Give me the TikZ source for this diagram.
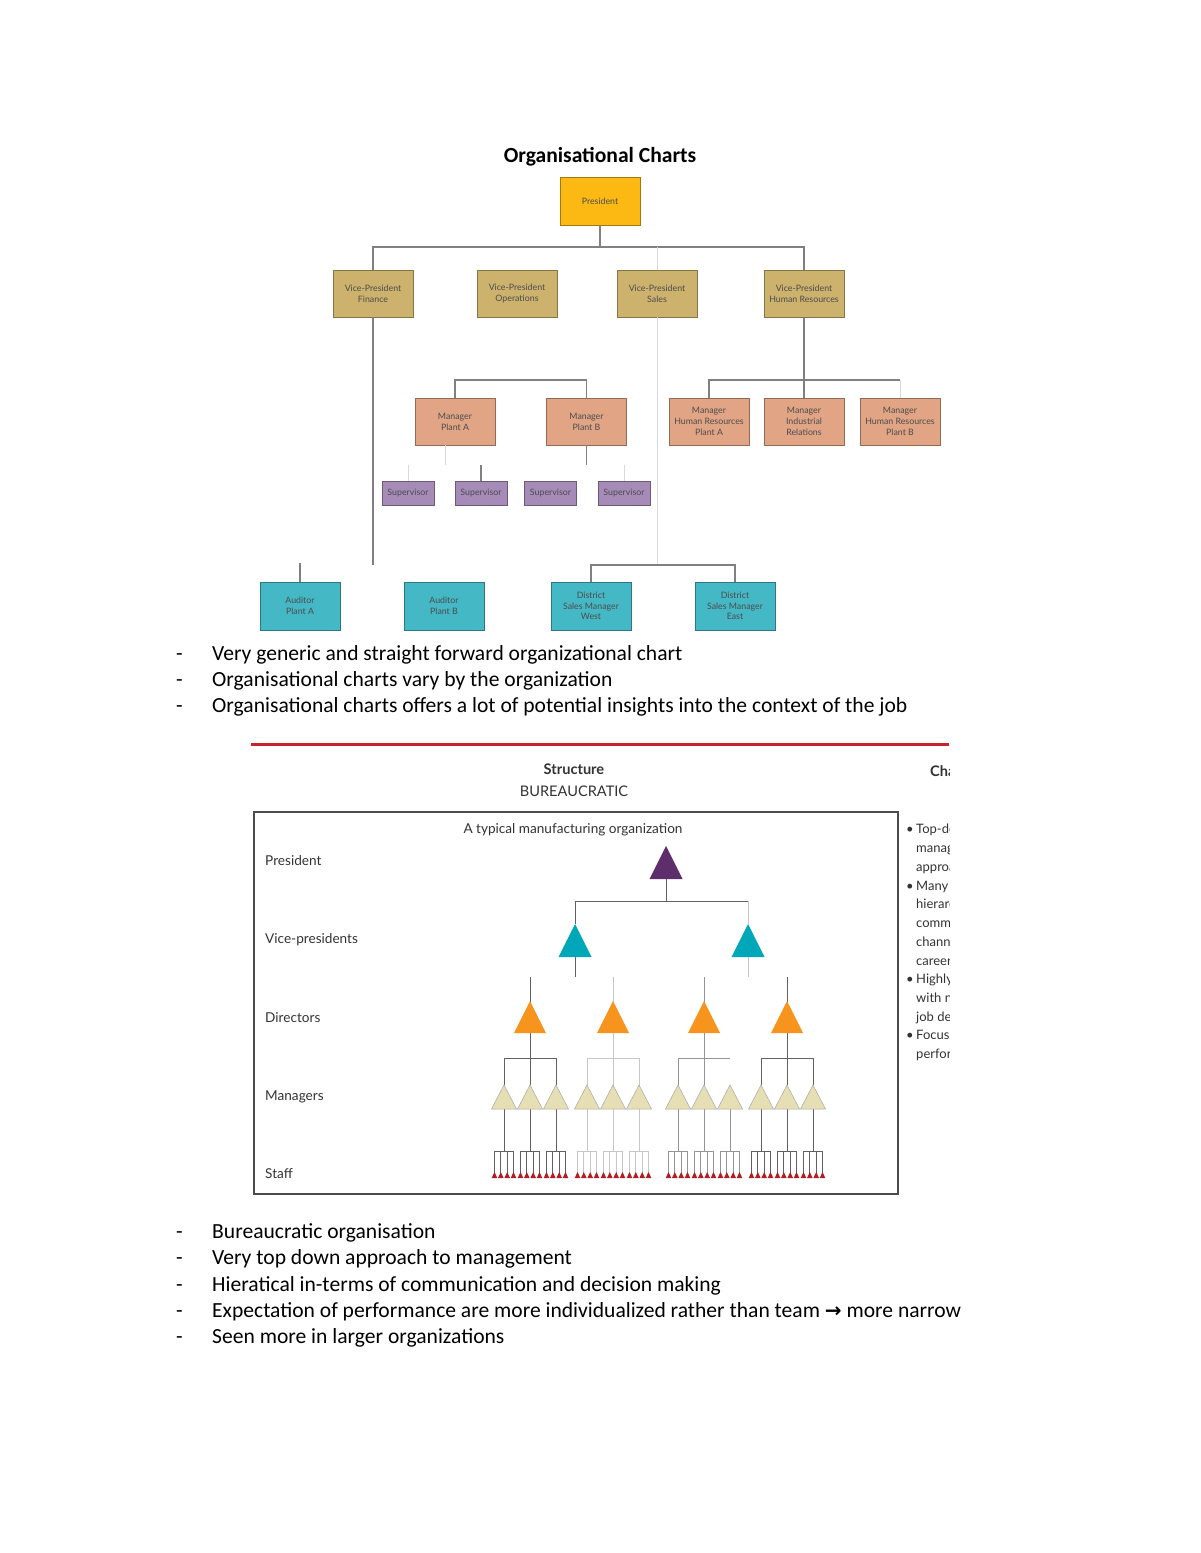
\documentclass[tikz,border=0pt]{standalone}
\usepackage{fontspec}
\setmainfont{Carlito}
\newfontfamily\gill{Lato}
\newfontfamily\dejavu{DejaVu Sans}
\definecolor{presgold}{HTML}{FDB913}
\definecolor{vptan}{HTML}{CDB26E}
\definecolor{mgrsal}{HTML}{E1A586}
\definecolor{suppur}{HTML}{A68BB8}
\definecolor{audteal}{HTML}{45B8C5}
\definecolor{redline}{HTML}{C8202E}
\definecolor{tripur}{HTML}{5E2D6B}
\definecolor{triteal}{HTML}{00A7B8}
\definecolor{triorange}{HTML}{F7941D}
\definecolor{tribeige}{HTML}{E6DFB3}
\definecolor{trired}{HTML}{B01E23}
\newcommand{\orgtri}[6]{\coordinate (#1) at (#2,#3); \path[#6] (#1) -- ++(#4,#5) -- ++({-2*#4},0) -- cycle;}
\begin{document}
\begin{tikzpicture}[x=1pt,y=-1pt,
  orgbox/.style={draw=#1!65!black, fill=#1, line width=0.9pt, minimum width=80pt, minimum height=47pt, inner sep=1pt, align=center, font=\gill\fontsize{8.8}{10.8}\selectfont, text=black!70},
  supbox/.style={orgbox=suppur, minimum width=52pt, minimum height=24pt},
  conn/.style={draw=black!50, line width=1.1pt},
  faint/.style={draw=black!15, line width=0.9pt},
  body/.style={anchor=base west, font=\fontsize{21.57}{26}\selectfont, inner sep=0pt},
  gillt/.style={font=\gill\fontsize{13.6}{16}\selectfont, text=black!80, inner sep=0pt},
  headt/.style={font=\gill\fontsize{14.6}{17}\selectfont, text=black!80, inner sep=0pt, anchor=base},
  lab/.style={gillt, anchor=base west},
  rtext/.style={font=\gill\fontsize{13}{16}\selectfont, text=black!80, inner sep=0pt, anchor=base west},
  linedk/.style={draw=black!62, line width=1pt},
  linemd/.style={draw=black!42, line width=1pt},
  linelt/.style={draw=black!22, line width=1pt},
]
\useasboundingbox (0,0) rectangle (1200,1553);
\fill[white] (0,0) rectangle (1200,1553);

% ---------- title ----------
\node[anchor=base, inner sep=0pt, font=\bfseries\fontsize{21.57}{26}\selectfont] (title) at (600,162) {Organisational Charts};

% ---------- top chart ----------
\node[orgbox=presgold, minimum height=48pt] (pres) at (600,201) {President};
\node[orgbox=vptan] (vpfin) at (373,293.5) {Vice-President\\Finance};
\node[orgbox=vptan] (vpops) at (517,293.5) {Vice-President\\Operations};
\node[orgbox=vptan] (vpsal) at (657,293.5) {Vice-President\\Sales};
\node[orgbox=vptan] (vphr) at (804,293.5) {Vice-President\\Human Resources};

\node[orgbox=mgrsal] (mpa) at (455,421.5) {Manager\\Plant A};
\node[orgbox=mgrsal] (mpb) at (586.5,421.5) {Manager\\Plant B};
\node[orgbox=mgrsal] (mhra) at (709,421.5) {Manager\\Human Resources\\Plant A};
\node[orgbox=mgrsal] (mir) at (804,421.5) {Manager\\Industrial\\Relations};
\node[orgbox=mgrsal] (mhrb) at (900,421.5) {Manager\\Human Resources\\Plant B};

\node[supbox] (sup1) at (408,493) {Supervisor};
\node[supbox] (sup2) at (481,493) {Supervisor};
\node[supbox] (sup3) at (550.5,493) {Supervisor};
\node[supbox] (sup4) at (624,493) {Supervisor};

\node[orgbox=audteal, minimum height=48pt] (aud1) at (300,606) {Auditor\\Plant A};
\node[orgbox=audteal, minimum height=48pt] (aud2) at (444,606) {Auditor\\Plant B};
\node[orgbox=audteal, minimum height=48pt] (dsw) at (591,606) {District\\Sales Manager\\West};
\node[orgbox=audteal, minimum height=48pt] (dse) at (735,606) {District\\Sales Manager\\East};

\coordinate (pj) at (600,247);
\coordinate (finend) at (373,565);
\coordinate (hrj) at (804,380);
\coordinate (pj2) at (520,380);
\coordinate (dj) at (657,565);
\coordinate (a1top) at (300,563);

\draw[conn] (pres.south) -- (pj);
\draw[conn] (vpfin.north) |- (pj) -- (vphr.north |- pj) -- (vphr.north);
\draw[faint] (vpsal.north) -- (vpsal.north |- pj);
\draw[conn] (vpfin.south) -- (finend);
\draw[conn] (vphr.south) -- (mir.north);
\draw[conn] (mhra.north) |- (hrj) -- (mhrb.north |- hrj);
\draw[faint] (mhrb.north |- hrj) -- (mhrb.north);
\draw[conn] (mpa.north) |- (pj2) -| (mpb.north);
\draw[faint] ([xshift=-10pt]mpa.south) -- ++(0,20);
\draw[conn] (mpb.south) -- ++(0,20);
\draw[faint] (sup1.north) -- ++(0,-16);
\draw[conn] (sup2.north) -- ++(0,-16);
\draw[faint] (sup4.north) -- ++(0,-16);
\draw[faint] (vpsal.south) -- (dj);
\draw[conn] (aud1.north) -- (a1top);
\draw[conn] (dsw.north) |- (dj) -| (dse.north);

% ---------- top bullets ----------
\node[body] (d1) at (176,660) {-};
\node[body] (t1) at (212,660) {Very generic and straight forward organizational chart};
\node[body] (d2) at (176,686) {-};
\node[body] (t2) at (212,686) {Organisational charts vary by the organization};
\node[body] (d3) at (176,712) {-};
\node[body] (t3) at (212,712) {Organisational charts offers a lot of potential insights into the context of the job};

% ---------- red rule ----------
\draw[line width=3pt, redline] (251,744) -- (949,744);

% ---------- bureaucratic figure ----------
\node[headt] (structure) at (574,774.5) {\bfseries Structure};
\node[headt] (bureau) at (574,796.5) {BUREAUCRATIC};
\begin{scope}
\clip (899,755) rectangle (949,1070);
\node[headt, anchor=base west] (chars) at (930,776.5) {\bfseries Characteristics};
\node[rtext] (r0b) at (906,833) {•};
\node[rtext] (r0) at (916,833) {Top-down};
\node[rtext] (r1) at (916,852) {management};
\node[rtext] (r2) at (916,871) {approach};
\node[rtext] (r3b) at (906,890) {•};
\node[rtext] (r3) at (916,890) {Many levels,};
\node[rtext] (r4) at (916,908) {hierarchical};
\node[rtext] (r5) at (916,927) {communication};
\node[rtext] (r6) at (916,946) {channels and};
\node[rtext] (r7) at (916,965) {career paths};
\node[rtext] (r8b) at (906,983) {•};
\node[rtext] (r8) at (916,983) {Highly specialized};
\node[rtext] (r9) at (916,1002) {with narrow};
\node[rtext] (r10) at (916,1021) {job descriptions};
\node[rtext] (r11b) at (906,1039) {•};
\node[rtext] (r11) at (916,1039) {Focus on};
\node[rtext] (r12) at (916,1058) {performance};
\end{scope}

\node[draw=black!70, line width=1.6pt, minimum width=644pt, minimum height=382pt, inner sep=0pt, anchor=north west] (frame) at (253,811) {};
\node[gillt, anchor=base] (typ) at (573,833) {A typical manufacturing organization};
\node[lab] (lpres) at (265,865) {President};
\node[lab] (lvp) at (265,943) {Vice-presidents};
\node[lab] (ldir) at (265,1022) {Directors};
\node[lab] (lmgr) at (265,1100) {Managers};
\node[lab] (lstaff) at (265,1178) {Staff};

% connector lines (behind triangles)
\draw[linedk] (666,879) -- (666,901);
\draw[linedk] (575,924) -- (575,901) -- (748,901);
\draw[linelt] (748,901) -- (748,924);
\draw[linedk] (575,957) -- (575,977);
\draw[linelt] (748,957) -- (748,977);

\foreach \d/\c/\r in {530/linedk/1, 613/linelt/1, 704/linemd/0, 787/linedk/1}{
  \draw[\c] (\d,977) -- (\d,1085);
  \draw[\c] ({\d-26},1085) -- ({\d-26},1058) -- ({\d+26},1058);
  \ifnum\r=1 \draw[\c] ({\d+26},1058) -- ({\d+26},1085); \fi
  \foreach \m in {\d-26,\d,\d+26}{
    \draw[\c] ({\m},1109) -- ({\m},1151);
    \draw[\c] ({\m-9.5},1151) -- ({\m+9.5},1151);
    \foreach \o in {-9.5,-3.2,3.2,9.5}{
      \draw[\c, line width=0.9pt] ({\m+(\o)},1151) -- ({\m+(\o)},1175);
    }
  }
}

% triangles
\orgtri{tpres}{666}{846}{16.5}{33}{fill=tripur}
\orgtri{tvp1}{575}{924}{16.5}{33}{fill=triteal}
\orgtri{tvp2}{748}{924}{16.5}{33}{fill=triteal}
\foreach \d in {530,613,704,787}{
  \orgtri{tdir\d}{\d}{1001}{16}{32}{fill=triorange}
  \foreach \m in {\d-26,\d,\d+26}{
    \orgtri{tm}{{\m}}{1085}{12.5}{24}{fill=tribeige, draw=black!35, line width=0.5pt}
    \foreach \o in {-9.5,-3.2,3.2,9.5}{
      \orgtri{ts}{{\m+(\o)}}{1172}{2.8}{6}{fill=trired}
    }
  }
}

% ---------- bottom bullets ----------
\node[body] (e1) at (176,1238) {-};
\node[body] (u1) at (212,1238) {Bureaucratic organisation};
\node[body] (e2) at (176,1264) {-};
\node[body] (u2) at (212,1264) {Very top down approach to management};
\node[body] (e3) at (176,1291) {-};
\node[body] (u3) at (212,1291) {Hieratical in-terms of communication and decision making};
\node[body] (e4) at (176,1317) {-};
\node[body] (u4) at (212,1317) {Expectation of performance are more individualized rather than team {\dejavu\bfseries\fontsize{20}{22}\selectfont →} more narrow};
\node[body] (e5) at (176,1343) {-};
\node[body] (u5) at (212,1343) {Seen more in larger organizations};
\end{tikzpicture}
\end{document}
